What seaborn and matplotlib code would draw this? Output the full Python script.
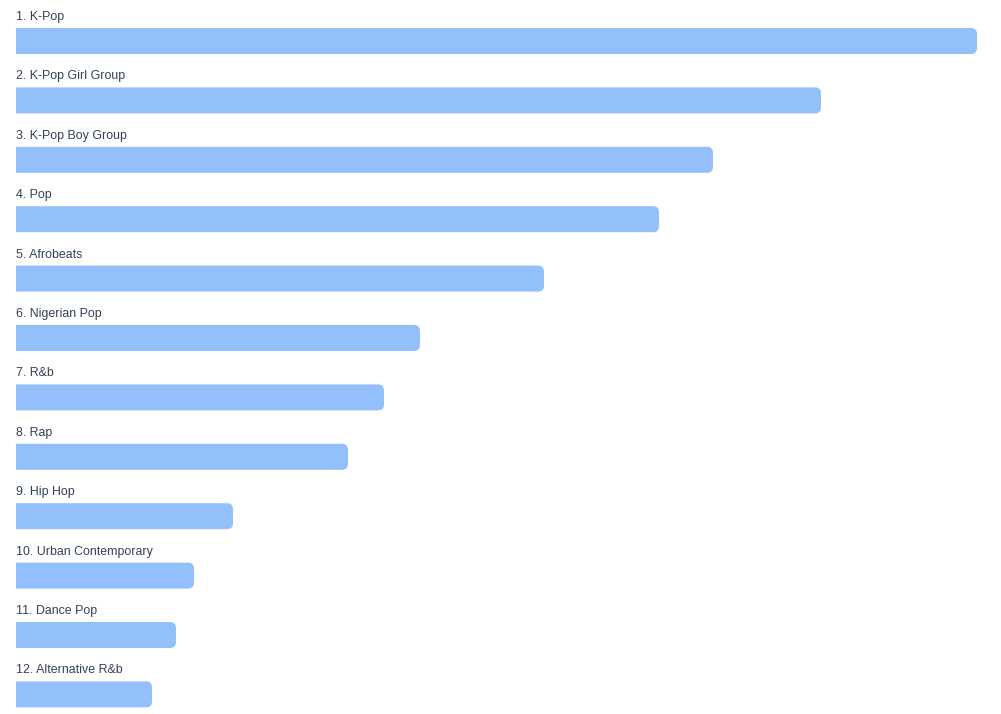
import matplotlib
matplotlib.use("Agg")
import matplotlib.pyplot as plt
from matplotlib.patches import FancyBboxPatch
import seaborn as sns
import pandas as pd

# Datos (escala relativa, sin eje visible)
generos = ["K-Pop", "K-Pop Girl Group", "K-Pop Boy Group", "Pop", "Afrobeats",
           "Nigerian Pop", "R&b", "Rap", "Hip Hop", "Urban Contemporary",
           "Dance Pop", "Alternative R&b"]
valores = [961, 805, 697, 643, 528, 404, 368, 332, 217, 178, 160, 136]

df = pd.DataFrame({"genero": generos, "valor": valores})

color_barra = "#93bffb"
color_texto = "#334155"

sns.set_style("white")
plt.rcParams["font.family"] = ["Liberation Sans", "DejaVu Sans"]

W, H = 1001, 714
fig = plt.figure(figsize=(W / 100, H / 100), dpi=100)

# eje en pixeles: x de 16 a 977
x0, x1 = 16, 977
paso = 59.4
centro0 = 41
ax = fig.add_axes([x0 / W, 0, (x1 - x0) / W, 1])

sns.barplot(data=df, x="valor", y="genero", orient="h", color=color_barra,
            width=26 / paso, ax=ax, saturation=1)

ax.set_xlim(0, x1 - x0)
ax.set_ylim((H - centro0) / paso, -centro0 / paso)
ax.axis("off")

# barras con esquinas redondeadas a la derecha
radio = 6
for p in list(ax.patches):
    x, y = p.get_x(), p.get_y()
    w, h = p.get_width(), p.get_height()
    p.remove()
    caja = FancyBboxPatch((x - 20, y), w + 20, h,
                          boxstyle=f"round,pad=0,rounding_size={radio}",
                          mutation_aspect=1 / paso,
                          facecolor=color_barra, edgecolor="none",
                          clip_on=True)
    ax.add_patch(caja)

# etiquetas encima de cada barra
for i, g in enumerate(generos):
    ax.text(0, i - 24 / paso, f"{i + 1}. {g}", fontsize=8.9, color=color_texto,
            ha="left", va="center")

fig.savefig("out.png", dpi=100)
